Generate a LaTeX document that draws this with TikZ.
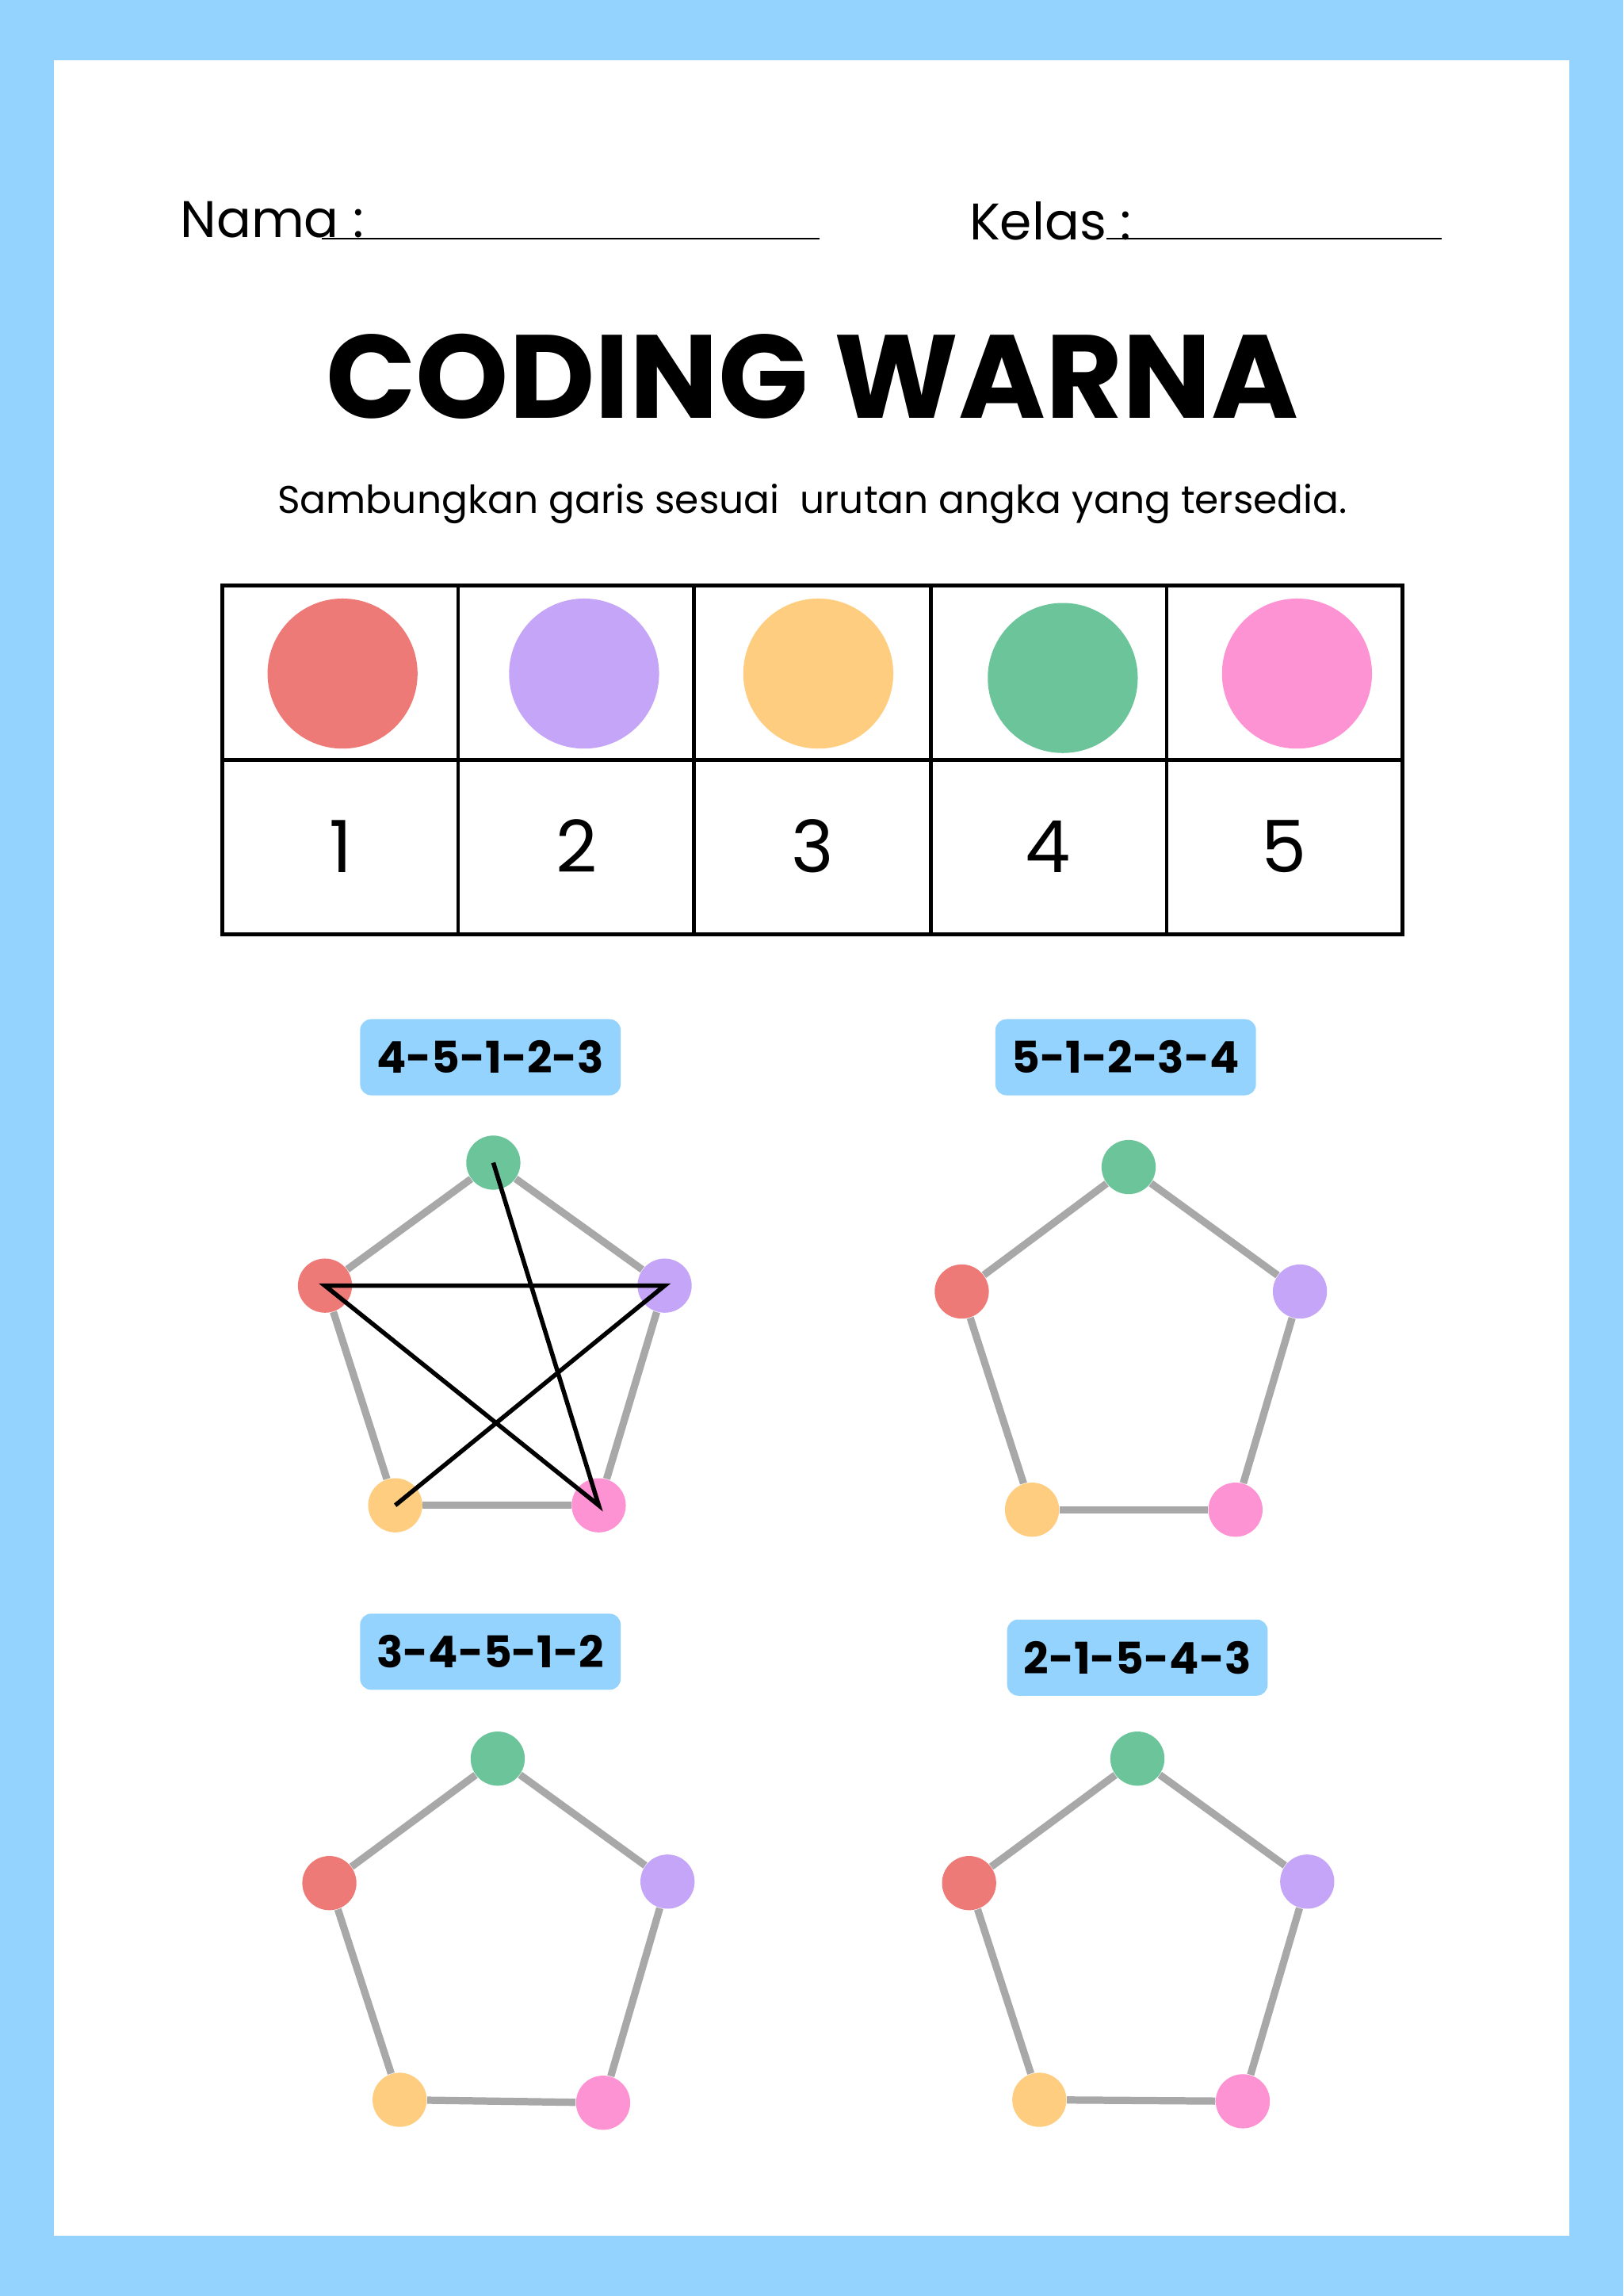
\documentclass[tikz,border=0pt]{standalone}
\usepackage{fontspec}
\setmainfont{Poppins}
\usepackage{xcolor}
\usetikzlibrary{positioning}
\definecolor{myframe}{HTML}{93D3FD}
\definecolor{myred}{HTML}{EE7A77}
\definecolor{mypurple}{HTML}{C4A5F7}
\definecolor{myyellow}{HTML}{FECD80}
\definecolor{mygreen}{HTML}{6CC59A}
\definecolor{mypink}{HTML}{FE93D4}
\definecolor{mygray}{HTML}{A8A8A8}
\tikzset{
  dot/.style={circle,inner sep=0pt,minimum size=0.74cm},
  big/.style={circle,inner sep=0pt,minimum size=2.05cm},
  edge/.style={color=mygray,line width=0.1cm},
  path/.style={color=black,line width=0.06cm},
  tag/.style={fill=myframe,rounded corners=0.15cm,minimum width=3.56cm,minimum height=1.04cm,font=\bfseries\fontsize{17}{20}\selectfont},
  num/.style={font=\fontsize{28}{32}\selectfont}
}
\newcommand{\pentagon}[6]{% prefix, then green, purple, pink, yellow, red
  \node[dot,fill=mygreen] (#1g) at #2 {};
  \node[dot,fill=mypurple] (#1p) at #3 {};
  \node[dot,fill=mypink] (#1k) at #4 {};
  \node[dot,fill=myyellow] (#1y) at #5 {};
  \node[dot,fill=myred] (#1r) at #6 {};
  \begin{scope}[on background layer]
  \end{scope}
  \draw[edge] (#1g) -- (#1p);
  \draw[edge] (#1p) -- (#1k);
  \draw[edge] (#1k) -- (#1y);
  \draw[edge] (#1y) -- (#1r);
  \draw[edge] (#1r) -- (#1g);
}
\usetikzlibrary{backgrounds}
\begin{document}
\begin{tikzpicture}[x=0.02cm,y=-0.02cm]
        % page
        \fill[myframe] (0,0) rectangle (1109,1568);
        \fill[white] (37,41) rectangle (1072,1527);
        % header
        \node[anchor=west,font=\fontsize{20}{24}\selectfont] (nama) at (117,150) {Nama :};
        \coordinate (namaend) at (560,163);
        \draw[line width=0.03cm] (220,163) -- (namaend);
        \node[anchor=west,font=\fontsize{20}{24}\selectfont] (kelas) at (656,151) {Kelas :};
        \coordinate (kelasend) at (985,163);
        \draw[line width=0.03cm] (756,163) -- (kelasend);
        \node[font=\bfseries\fontsize{46}{50}\selectfont] (title) at (555,257) {CODING WARNA};
        \node[font=\fontsize{15}{18}\selectfont] (hint) at (555,344) {Sambungkan garis sesuai\ \ urutan angka yang tersedia.};
        % table
        \draw[line width=0.05cm] (152,400) rectangle (958,638);
        \draw[line width=0.05cm] (152,519) -- (958,519);
        \foreach \x in {313,474,636,797} \draw[line width=0.05cm] (\x,400) -- (\x,638);
        \node[big,fill=myred] (c1) at (234,460) {};
        \node[big,fill=mypurple] (c2) at (399,460) {};
        \node[big,fill=myyellow] (c3) at (559,460) {};
        \node[big,fill=mygreen] (c4) at (726,463) {};
        \node[big,fill=mypink] (c5) at (886,460) {};
        \foreach \x/\n in {233/1,394/2,555/3,716/4,877/5}
          \node[num] (n\n) at (\x,578) {\n};
        % tags
        \node[tag] (t1) at (335,722) {4-5-1-2-3};
        \node[tag] (t2) at (769,722) {5-1-2-3-4};
        \node[tag] (t3) at (335,1128) {3-4-5-1-2};
        \node[tag] (t4) at (777,1132) {2-1-5-4-3};
        % pentagons
        \pentagon{a}{(337,794)}{(454,878)}{(409,1028)}{(270,1028)}{(222,878)}
        \pentagon{b}{(771,797)}{(888,882)}{(844,1031)}{(705,1031)}{(657,882)}
        \pentagon{c}{(340,1201)}{(456,1285)}{(412,1436)}{(273,1434)}{(225,1286)}
        \pentagon{d}{(777,1201)}{(893,1285)}{(849,1435)}{(710,1434)}{(662,1286)}
        % answer
        \draw[path] (ag.center) -- (ak.center) -- (ar.center) -- (ap.center) -- (ay.center);
\end{tikzpicture}
\end{document}
